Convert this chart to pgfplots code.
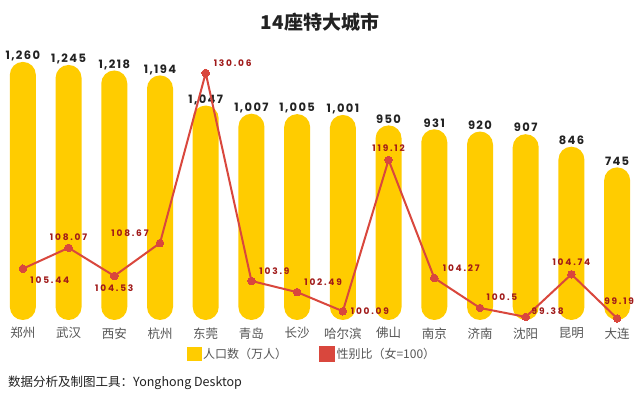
\documentclass[border=0pt]{standalone}
\usepackage{pgfplots}
\pgfplotsset{compat=1.18}
\usepackage{pgfplotstable}
\usepackage{fontspec}
\setmainfont{Noto Sans CJK SC}
\newfontfamily\cjk{Noto Sans CJK SC}
\newfontfamily\numfont[LetterSpace=12]{Poppins}
\newfontfamily\smallnum[LetterSpace=20]{Poppins}
\definecolor{barY}{HTML}{FFCC00}
\definecolor{lineR}{HTML}{D9473D}
\definecolor{lblR}{HTML}{A01A1A}
\definecolor{catG}{HTML}{555555}
\definecolor{txtD}{HTML}{222222}

\pgfplotstableread{
x pop ratio dx dy
0 1260 105.44 27 -11
1 1245 108.07 0 11
2 1218 104.53 0 -12
3 1194 108.67 -30 10
4 1047 130.06 27 10
5 1007 103.9 23 10
6 1005 102.49 26 10
7 1001 100.09 27 0
8 950 119.12 0 12
9 931 104.27 27 10
10 920 100.5 22 11
11 907 99.38 22 6
12 846 104.74 0 12
13 745 99.19 2 17
}\data

\begin{document}
\begin{tikzpicture}
\path[use as bounding box, fill=white] (0,0) rectangle (640bp,396bp);
\begin{axis}[
  at={(0bp,76bp)}, anchor=south west,
  width=640bp, height=270bp, scale only axis,
  xmin=-0.5, xmax=13.5, ymin=0, ymax=1318,
  axis line style={draw=none}, major tick length=0pt,
  ytick=\empty,
  xtick=data,
  xticklabels={郑州,武汉,西安,杭州,东莞,青岛,长沙,哈尔滨,佛山,南京,济南,沈阳,昆明,大连},
  xticklabel style={font=\cjk\fontsize{12.5bp}{15bp}\selectfont, text=catG, yshift=-4bp},
]
\addplot[ybar, bar width=26bp, fill=barY, draw=none, rounded corners=13bp,
  point meta=y,
  nodes near coords={\pgfmathprintnumber[assume math mode=true,1000 sep={,}]{\pgfplotspointmeta}},
  every node near coord/.append style={font=\numfont\bfseries\fontsize{11.5bp}{13bp}\selectfont, text=txtD, inner sep=2bp, text depth=0pt, rounded corners=0pt}
] table[x=x, y=pop]{\data};
\end{axis}
\begin{axis}[
  at={(0bp,76bp)}, anchor=south west,
  width=640bp, height=270bp, scale only axis,
  xmin=-0.5, xmax=13.5, ymin=98.99, ymax=132.95,
  hide axis,
  legend style={at={(axis description cs:0.2922,-0.126)}, anchor=west, draw=none, fill=none, inner sep=0pt,
    font=\cjk\fontsize{12bp}{14bp}\selectfont, text=catG, legend columns=2,
    /tikz/every even column/.append style={column sep=30bp}},
  legend cell align=left,
]
\addlegendimage{legend image code/.code={\fill[barY] (0bp,-6.5bp) rectangle (13.5bp,7bp);}}
\addlegendentry{人口数（万人）}
\addplot[lineR, line width=2bp, mark=*, mark size=3.8bp, mark options={fill=lineR, draw=lineR, line width=0pt},
  point meta=explicit symbolic,
  nodes near coords,
  visualization depends on={\thisrow{dx}\as\dx},
  visualization depends on={\thisrow{dy}\as\dy},
  every node near coord/.append style={anchor=center, xshift=\dx bp, yshift=\dy bp,
    font=\smallnum\bfseries\fontsize{9bp}{11bp}\selectfont, text=lblR},
  legend image code/.code={\fill[lineR] (0bp,-6.5bp) rectangle (13.5bp,7bp);}
] table[x=x, y=ratio, meta=ratio]{\data};
\addlegendentry{性别比（女=100）}
\end{axis}
\node[font=\cjk\bfseries\fontsize{19bp}{22bp}\selectfont, text=txtD] at (320bp,374bp) {14座特大城市};
\node[anchor=west, font=\cjk\fontsize{12.5bp}{15bp}\selectfont, text=txtD, inner sep=0pt] at (8bp,13bp) {数据分析及制图工具：Yonghong Desktop};
\end{tikzpicture}
\end{document}
